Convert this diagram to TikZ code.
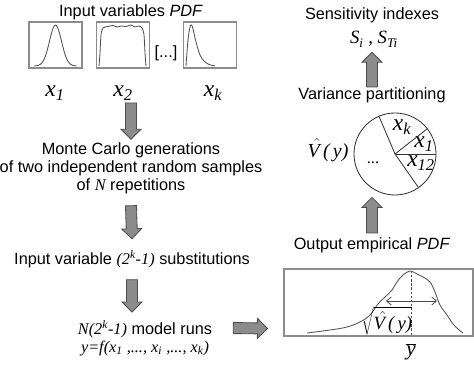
\documentclass[tikz,border=0pt]{standalone}
\usepackage{fontspec}
\setmainfont{Liberation Sans}
\newfontfamily\tms{Liberation Serif}
\usetikzlibrary{calc,arrows.meta}

\definecolor{setacor}{gray}{0.55}
\definecolor{setaborda}{gray}{0.3}
\definecolor{moldura}{gray}{0.55}
\definecolor{curvacor}{gray}{0.3}

\newcommand\vi[1]{{\tms\itshape #1}}
\newcommand\Vhat{$\skew{6}{\hat}{\hbox{\vi{V}}}$}

% seta grossa cinza de (#1) para (#2)
\newcommand\blkarrow[2]{%
  \coordinate (bt) at (#1);
  \coordinate (bp) at (#2);
  \coordinate (bh) at ($(bp)!8.5pt!(bt)$);
  \draw[setabloco] ($(bt)!4.7pt!90:(bp)$) -- ($(bh)!4.7pt!-90:(bt)$)
    -- ($(bh)!8.5pt!-90:(bt)$) -- (bp) -- ($(bh)!8.5pt!90:(bt)$)
    -- ($(bh)!4.7pt!90:(bt)$) -- ($(bt)!4.7pt!-90:(bp)$) -- cycle;}

\begin{document}
\begin{tikzpicture}[
    x=0.03cm, y=0.03cm,
    texto/.style={
        font=\fontsize{13.9}{15.3}\selectfont,
        inner sep=0pt,
        align=center
    },
    rotulo/.style={
        font=\fontsize{20}{22}\selectfont\tms\itshape,
        inner sep=0pt
    },
    caixa/.style={
        rectangle,
        draw=moldura,
        line width=0.9pt,
        minimum width=1.59cm,
        minimum height=1.38cm,
        inner sep=0pt
    },
    curva/.style={draw=curvacor, line width=0.7pt},
    fatia/.style={draw=black!80, line width=0.7pt},
    setabloco/.style={fill=setacor, draw=setaborda, line width=0.7pt, line join=miter}
]
\useasboundingbox (0,0) rectangle (474,366);

% COLUNA ESQUERDA: ENTRADAS
\node[texto, anchor=base] (entradas) at (131,349) {Input variables \textit{PDF}};
\node[caixa] (pdfa) at (55.5,321) {};
\node[caixa] (pdfb) at (123,321) {};
\node[caixa] (pdfk) at (210,321) {};
\node[texto, anchor=base] (etc) at (166,308) {[...]};
\node[rotulo, anchor=base] (lx1) at (55,269) {x\textsubscript{1}};
\node[rotulo, anchor=base] (lx2) at (123,269) {x\textsubscript{2}};
\node[rotulo, anchor=base] (lxk) at (213,269) {x\textsubscript{k}};

\draw[curva, shift={(pdfa.center)}] plot[domain=-21:21, samples=43, smooth]
    (\x, {-21+41*exp(-0.5*(\x/6)*(\x/6))});
\draw[curva, shift={(pdfb.center)}] plot[smooth, tension=0.5] coordinates {
    (-24,-21) (-23,-8) (-22,10) (-20,17) (-15,18.5) (-10,19.5) (-6,18) (-2,19)
    (3,18.5) (8,20) (12,18) (16,19) (19,17) (21,10) (22,-8) (23,-21)};
\draw[curva, shift={(pdfk.center)}] plot[smooth, tension=0.6] coordinates {
    (-24,-21) (-22,5) (-20,18) (-18.5,20) (-17,16) (-14,3) (-10,-10) (-6,-16)
    (-1,-19.5) (5,-21)};

% COLUNA ESQUERDA: AMOSTRAGEM E SIMULACAO
\node[texto] (mc) at (131,198) {Monte Carlo generations\\of two independent random samples\\of \vi{N} repetitions};
\node[texto, anchor=base] (subst) at (132,101) {Input variable \vi{(2\textsuperscript{k}-1)} substitutions};
\node[texto] (runs) at (145,28) {\vi{N(2\textsuperscript{k}-1)} model runs\\\vi{y=f(x\textsubscript{1} ,..., x\textsubscript{i} ,..., x\textsubscript{k})}};

% COLUNA DIREITA: SAIDA
\node[caixa, minimum width=5.67cm, minimum height=2.01cm] (saida) at (378.5,63.5) {};
\draw[curva, shift={(saida.center)}] plot[smooth, tension=0.6] coordinates {
    (-71.5,-30.5) (-48.5,-27.5) (-31.5,-24.5) (-18.5,-19.5) (-8.5,-12.5)
    (-0.5,-1.5) (6.5,5.5) (13.5,12.5) (18.5,20.5) (24.5,27.5) (31.5,31.5)
    (38.5,28.5) (44.5,25.5) (51.5,20.5) (56.5,10.5) (61.5,-2.5) (68.5,-12.5)
    (74.5,-21.5) (79.5,-26.5) (84.5,-30.5)};
\coordinate (pico) at ($(saida.center)+(32.5,31.5)$);
\coordinate (dpe) at ($(saida.center)+(7.5,1.5)$);
\coordinate (dpd) at ($(saida.center)+(58.5,1.5)$);
\draw[curva, dash pattern=on 2pt off 1.5pt, line width=0.6pt] (pico) -- (pico |- saida.south);
\draw[curva, {Straight Barb[length=4pt,width=7pt]}-{Straight Barb[length=4pt,width=7pt]}] (dpe) -- (dpd);
\node[font=\fontsize{16}{18}\selectfont, inner sep=0pt] (desvio) at (387,45) {$\sqrt{\hbox{\rule{0pt}{1.02em}\Vhat\,\vi{(\,y)}}}$};
\node[font=\fontsize{18}{20}\selectfont, inner sep=0pt, anchor=base] (media) at ($(pico |- saida.south)+(0,-19)$) {$\overline{\hbox{\vi{y}}}$};
\node[texto, anchor=base] (saidatit) at (372,116) {Output empirical \textit{PDF}};

% COLUNA DIREITA: VARIANCIA E INDICES
\node[circle, draw=black!80, line width=0.7pt, minimum size=2.46cm, inner sep=0pt] (pizza) at (395,212) {};
\draw[fatia] (pizza.center) -- (pizza.113);
\draw[fatia] (pizza.center) -- (pizza.-55);
\draw[fatia] (pizza.center) -- (pizza.38);
\draw[fatia] (pizza.center) -- (pizza.0);
\node[rotulo] (pxk) at (402,239) {x\textsubscript{k}};
\node[rotulo] (px1) at (424,222) {x\textsubscript{1}};
\node[rotulo] (px12) at (421,203) {x\textsubscript{12}};
\node[font=\fontsize{14}{16}\selectfont\tms, anchor=base] (resto) at (373,202) {...};
\node[font=\fontsize{17}{19}\selectfont, inner sep=0pt] (vy) at (328,216) {\Vhat\,\vi{(\,y)}};
\node[texto, anchor=base] (particao) at (372,266) {Variance partitioning};
\node[texto, anchor=base] (sensib) at (372,346) {Sensitivity indexes};
\node[font=\fontsize{16}{18}\selectfont\tms\itshape, inner sep=0pt, anchor=base] (indices) at (374,322) {S\textsubscript{i} , S\textsubscript{Ti}};

% SETAS
\blkarrow{$(mc.north |- lx2.base)+(0,-6)$}{$(mc.north)+(0,3)$}
\blkarrow{$(mc.south)+(0,-12)$}{$(subst.north)+(0,12)$}
\blkarrow{$(subst.south)+(0,-11)$}{$(subst.south |- runs.north)+(0,8)$}
\blkarrow{$(runs.north east)+(21,-8)$}{$(saida.south west)+(-16,8)$}
\blkarrow{$(saidatit.north)+(0,5)$}{$(saidatit.north |- pizza.south)+(0,-2)$}
\blkarrow{$(particao.north)+(0,1)$}{$(particao.north |- indices.south)+(0,-5)$}

\end{tikzpicture}
\end{document}
